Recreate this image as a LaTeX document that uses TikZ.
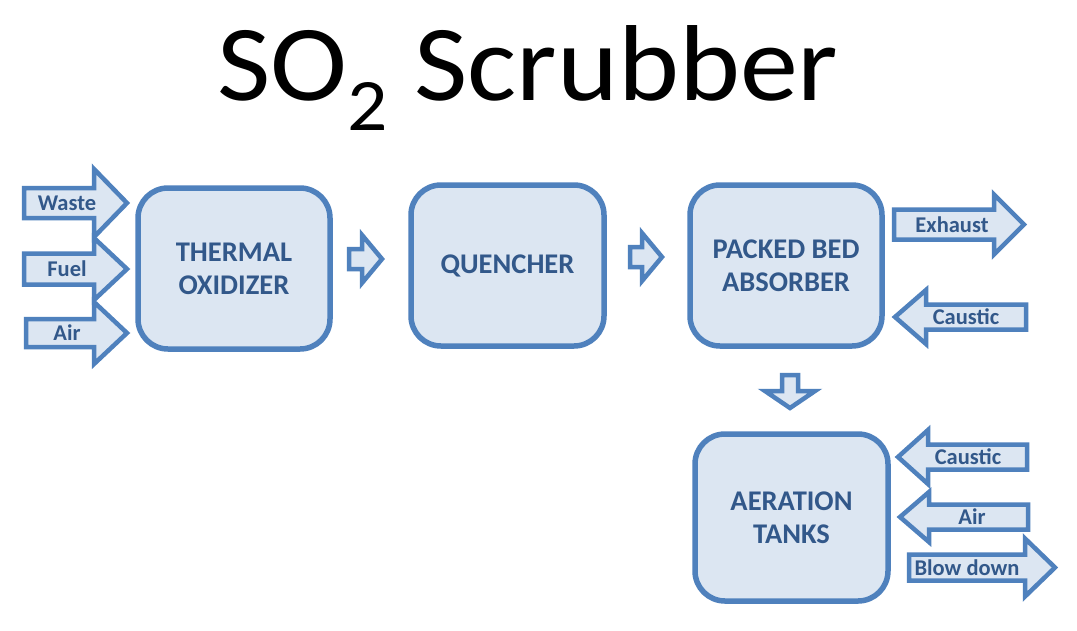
\documentclass[tikz,border=0pt]{standalone}
\usepackage{fontspec}
\setmainfont{Carlito}
\definecolor{bord}{RGB}{79,129,189}
\definecolor{boxfill}{RGB}{220,230,242}
\definecolor{txt}{RGB}{50,88,138}
\newcommand{\rarr}[6]{% x0, x1 (tip), yc, shaft half, head half, head length
  \draw[arr] (#1,#3-#4) -- (#2-#6,#3-#4) -- (#2-#6,#3-#5) -- (#2,#3) -- (#2-#6,#3+#5) -- (#2-#6,#3+#4) -- (#1,#3+#4) -- cycle;}
\newcommand{\larr}[6]{% x0 (tip), x1 (tail), yc, shaft half, head half, head length
  \draw[arr] (#2,#3-#4) -- (#1+#6,#3-#4) -- (#1+#6,#3-#5) -- (#1,#3) -- (#1+#6,#3+#5) -- (#1+#6,#3+#4) -- (#2,#3+#4) -- cycle;}
\begin{document}
\begin{tikzpicture}[x=1pt,y=-1pt,
  box/.style={draw=bord, line width=5.5pt, fill=boxfill, rounded corners=30pt, align=center,
    text=txt, font=\fontsize{28.5}{33}\selectfont\bfseries},
  arr/.style={draw=bord, line width=4.5pt, fill=boxfill, line join=miter},
  lab/.style={text=txt, font=\fontsize{22.5}{26}\selectfont\bfseries, inner sep=0pt},
  ttl/.style={font=\fontsize{108}{120}\selectfont, inner sep=0pt}]
\useasboundingbox (0,0) rectangle (1077,630);
\fill[white] (0,0) rectangle (1077,630);
% title
\node[ttl, anchor=base] (title) at (528,100) {\scalebox{1.075}[1]{SO\raisebox{-0.28em}{\fontsize{74}{80}\selectfont 2} Scrubber}};
% boxes
\node[box, minimum width=192pt, minimum height=161pt] (thermal) at (234,268.5) {THERMAL\\OXIDIZER};
\node[box, minimum width=193pt, minimum height=161pt] (quench) at (507.5,265.5) {QUENCHER};
\node[box, minimum width=192pt, minimum height=161pt] (packed) at (786,265.5) {PACKED BED\\ABSORBER};
\node[box, minimum width=193pt, minimum height=167pt] (aer) at (791.5,517.5) {AERATION\\TANKS};
% inputs to thermal oxidizer
\rarr{24}{127}{203}{15}{34}{33}
\rarr{24}{127}{269}{15.5}{31}{33}
\rarr{26}{127}{333}{14}{31}{33}
\node[lab] (waste) at (67,203) {Waste};
\node[lab] (fuel) at (67,269) {Fuel};
\node[lab] (air1) at (67,333) {Air};
% small connectors
\rarr{349}{382}{259}{10}{24}{20}
\rarr{630}{662}{257}{10}{24}{20}
\draw[arr] (782,375) -- (798,375) -- (798,391) -- (815,391) -- (790,408) -- (765,391) -- (782,391) -- cycle;
% packed bed side arrows
\rarr{894}{1024}{224.5}{15}{30}{30}
\node[lab] (exhaust) at (952,225) {Exhaust};
\larr{895}{1026}{317}{12.5}{27}{31}
\node[lab] (caustic1) at (966,317) {Caustic};
% aeration side arrows
\larr{898}{1027}{457}{12.5}{27}{30}
\node[lab] (caustic2) at (968,457) {Caustic};
\larr{900}{1028}{517}{12.5}{25}{29}
\node[lab] (air2) at (972,517) {Air};
\rarr{909}{1055}{567.5}{13}{29}{30}
\node[lab] (blow) at (967,568) {Blow down};
\end{tikzpicture}
\end{document}
